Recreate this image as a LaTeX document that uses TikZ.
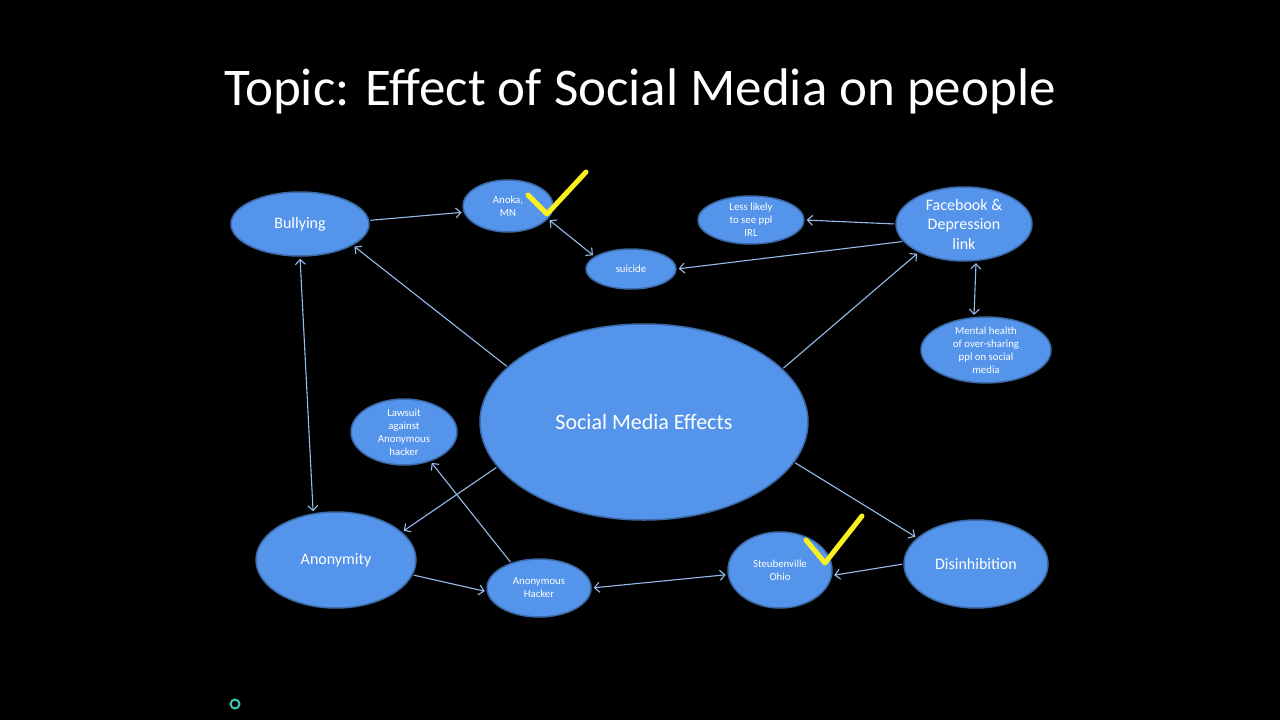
\documentclass[tikz,border=0pt]{standalone}
\usepackage{fontspec}
\setmainfont{Carlito}
\usetikzlibrary{arrows.meta,
                shapes.geometric}
\definecolor{bubblefill}{RGB}{84,148,234}
\definecolor{bubbleline}{RGB}{60,105,165}
\definecolor{linkblue}{RGB}{150,188,235}
\definecolor{tickyellow}{RGB}{250,240,30}
\definecolor{dotteal}{RGB}{60,200,180}

\begin{document}
\begin{tikzpicture}[
x=1pt, y=-1pt,
 bubble/.style = {ellipse, draw=bubbleline, line width=1.5pt,
                  fill=bubblefill, text=white, inner sep=0pt,
                  align=center},
    big/.style = {font=\fontsize{16}{19.5}\selectfont},
  small/.style = {font=\fontsize{10.8}{13}\selectfont},
   link/.style = {draw=linkblue, line width=1.1pt,
                  -{Straight Barb[length=5pt,width=10pt]},
                  shorten >=2pt, shorten <=1pt},
   twin/.style = {link, {Straight Barb[length=5pt,width=10pt]}-{Straight Barb[length=5pt,width=10pt]},
                  shorten <=2pt},
   tick/.style = {draw=tickyellow, line width=5pt, line cap=round,
                  line join=round},
                        ]
\fill[black] (0,0) rectangle (1280,720);
\node[font=\fontsize{53}{60}\selectfont, text=white] (title) at (640,91)
      {Topic: Effect of Social Media on people};

    \begin{scope}[every node/.append style={bubble}]
\node[minimum width=328, minimum height=196,
      font=\fontsize{22}{26}\selectfont] (sme) at (644,422) {Social Media Effects};
\node[big, minimum width=138, minimum height=64] (bully)  at (300,224) {Bullying};
\node[small, minimum width=90, minimum height=52] (anoka) at (508,206) {Anoka,\\MN};
\node[small, minimum width=90, minimum height=40] (suicide) at (631,269) {suicide};
\node[small, minimum width=106, minimum height=48] (less) at (751,220)
      {Less likely\\to see ppl\\IRL};
\node[big, minimum width=136, minimum height=74] (fb) at (964,224)
      {Facebook \&\\Depression\\link};
\node[small, minimum width=130, minimum height=56] (mental) at (986,350)
      {Mental health\\of over-sharing\\ppl on social\\media};
\node[small, minimum width=106, minimum height=66] (lawsuit) at (404,432)
      {Lawsuit\\against\\Anonymous\\hacker};
\node[big, minimum width=160, minimum height=96] (anon) at (336,560) {Anonymity};
\node[small, minimum width=104, minimum height=58] (hacker) at (539,588)
      {Anonymous\\Hacker};
\node[small, minimum width=104, minimum height=76] (steub) at (780,570)
      {Steubenville\\Ohio};
\node[big, minimum width=144, minimum height=88] (dis) at (976,564) {Disinhibition};
    \end{scope}

% one-way connectors
\foreach \a/\b in {bully.3/anoka.188, fb.196/suicide.0, fb.west/less.east,
                   sme.21/fb.212, sme.158/bully.338, sme.197/anon.23,
                   anon.349/hacker.184, hacker.138/lawsuit.312,
                   sme.345/dis.156, dis.west/steub.354}
    \draw[link] (\a) -- (\b);
% two-way connectors
\foreach \a/\b in {anoka.342/suicide.161, fb.288/mental.110,
                   bully.south/anon.116, hacker.east/steub.185}
    \draw[twin] (\a) -- (\b);

% check marks
\draw[tick] (528,195) -- (547,214) -- (586,172);
\draw[tick] (806,540) -- (825,563) -- (862,516);
\draw[dotteal, line width=2pt] (235,704) circle (4.5);
\end{tikzpicture}
\end{document}
